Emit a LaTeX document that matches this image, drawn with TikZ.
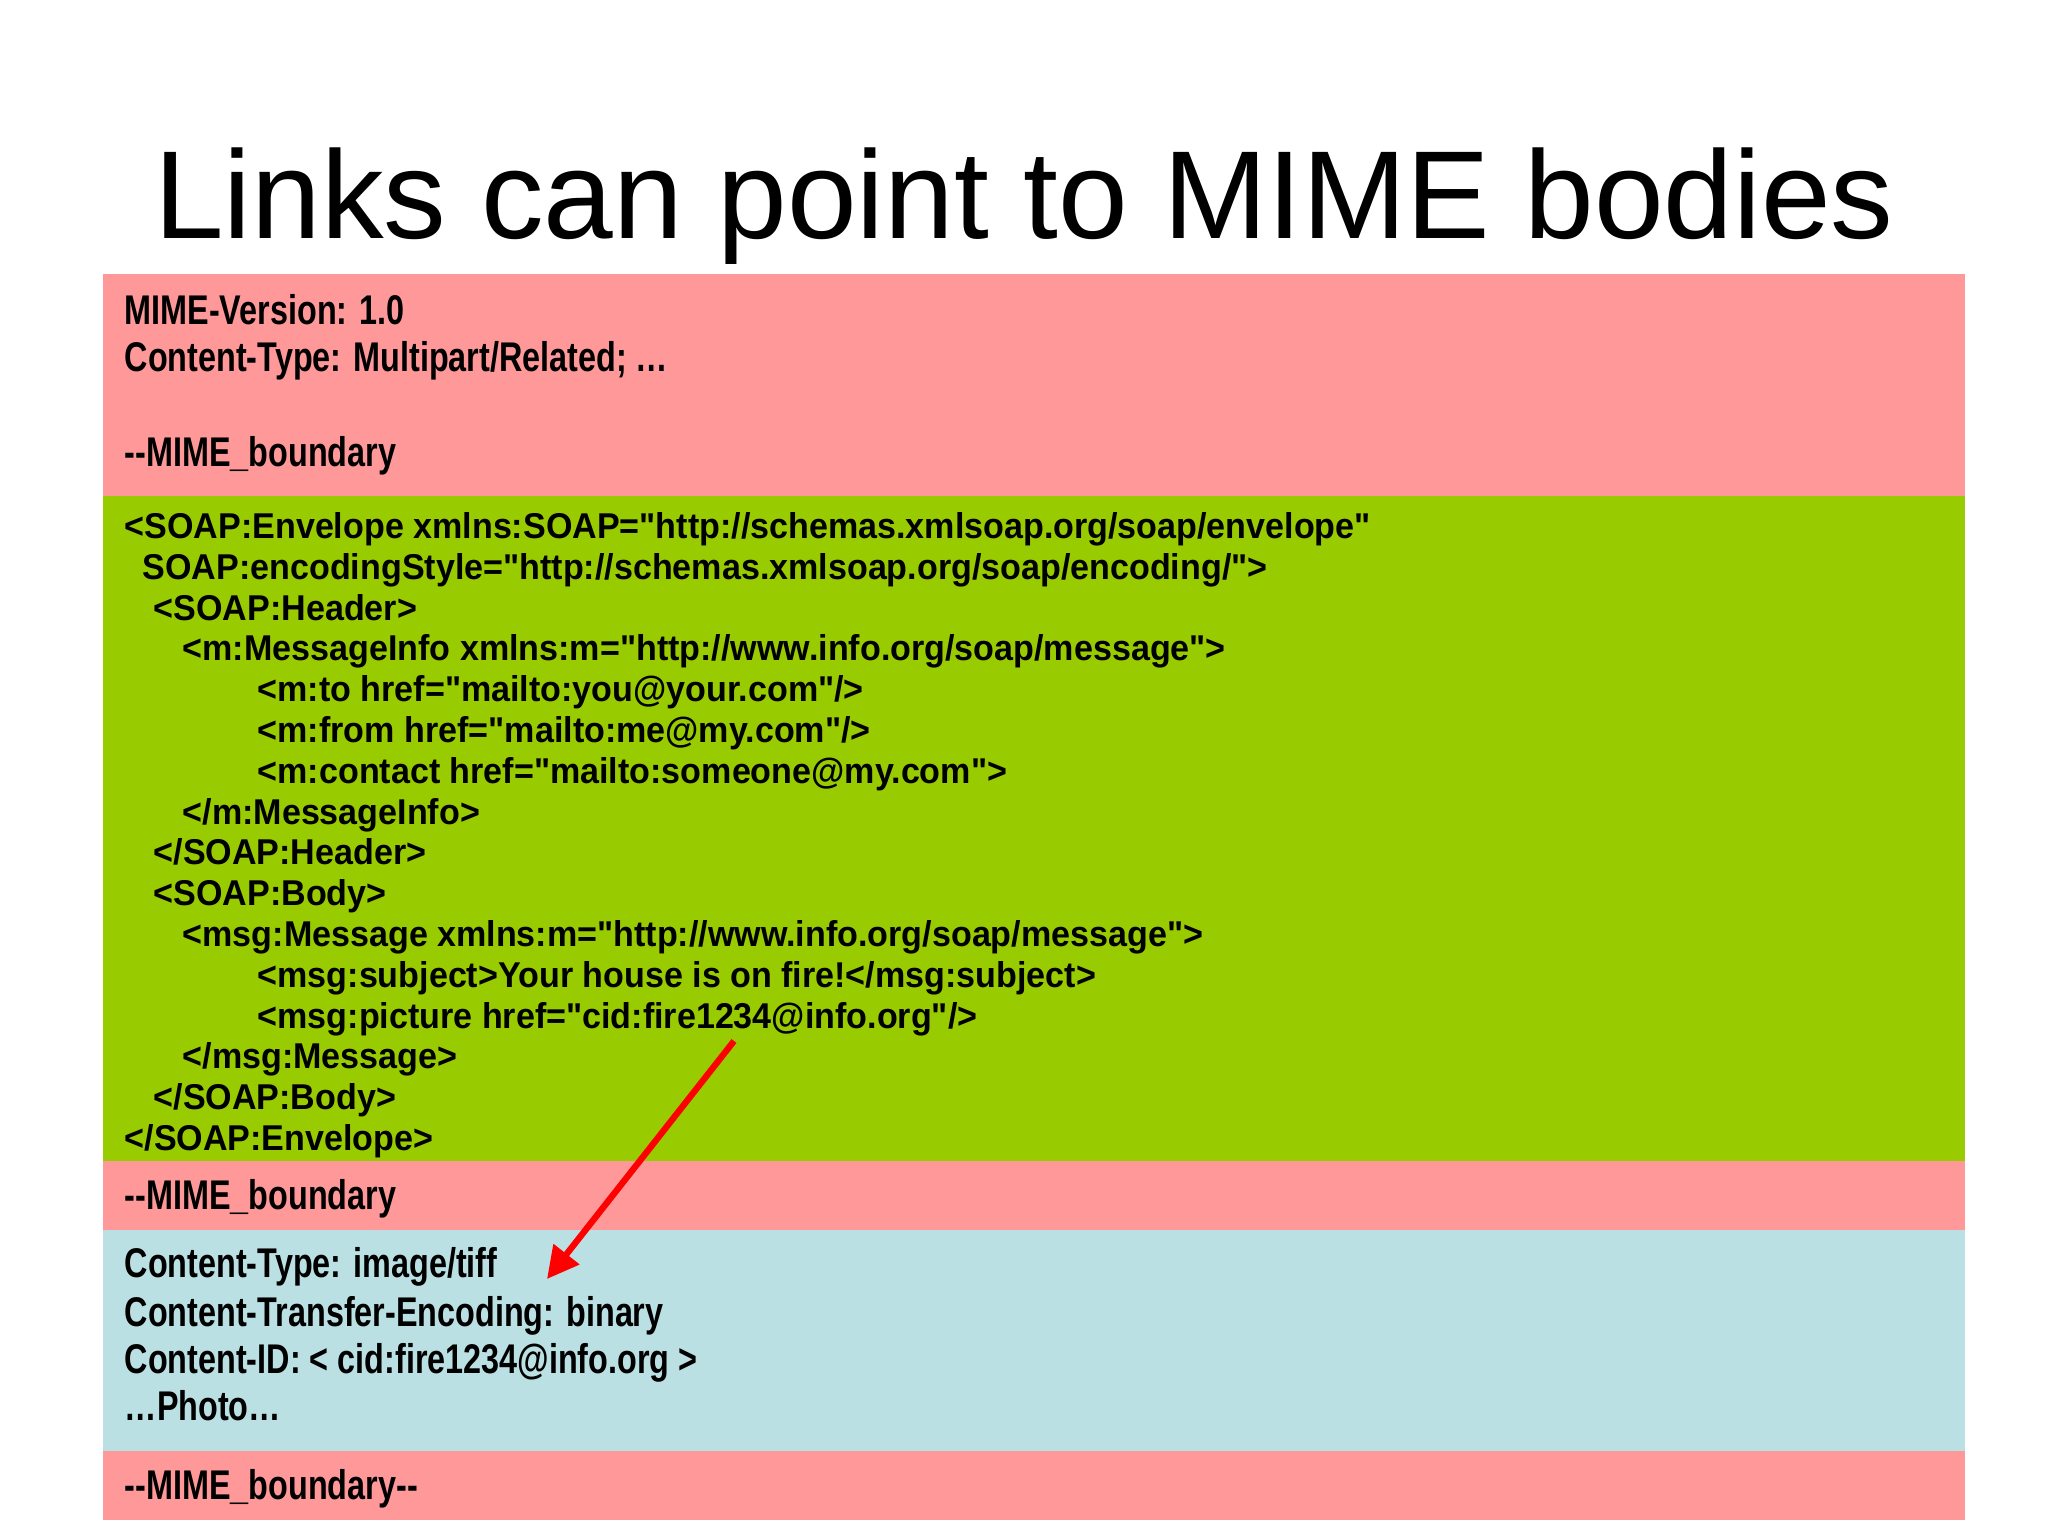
\documentclass[tikz,border=0pt]{standalone}
\usepackage{fontspec}
\usepackage[x11names, rgb]{xcolor}
\usepackage{tikz}
\usetikzlibrary{arrows.meta,shapes}

\newfontfamily\titlefont{Liberation Sans}
\newfontfamily\mimefont[FakeStretch=0.78]{Liberation Sans Bold}
\newfontfamily\soapfont[FakeStretch=0.95]{Liberation Sans Bold}

\definecolor{mimepink}{RGB}{255,153,153}
\definecolor{soapgreen}{RGB}{153,204,0}
\definecolor{partblue}{RGB}{187,224,227}

\begin{document}
\begin{tikzpicture}
[x=0.01cm,y=-0.01cm]
\tikzset{
	part/.style = {rectangle, inner sep = 0, minimum width = 18.61cm, anchor = north west},
	header/.style = {part, fill = mimepink},
	envelope/.style = {part, fill = soapgreen},
	attachment/.style = {part, fill = partblue},
	heading/.style = {anchor = base, inner sep = 0, font = \titlefont\fontsize{35.6}{40}\selectfont},
	mimeline/.style = {anchor = base west, inner sep = 0, font = \mimefont\fontsize{11.8}{13}\selectfont},
	soapline/.style = {anchor = base west, inner sep = 0, font = \soapfont\fontsize{10.2}{12}\selectfont},
	link/.style = {draw = red, line width = 1.8pt, -{Triangle[length=9pt,width=9pt]}}
}
\useasboundingbox (0,0) rectangle (2048,1536);

\node (title) [heading] at (1024,238) {Links can point to MIME bodies};

\node (head) [header, minimum height = 2.22cm] at (102,273) {};
\node (soap) [envelope, minimum height = 6.65cm] at (102,495) {};
\node (bound1) [header, minimum height = 0.69cm] at (102,1160) {};
\node (photo) [attachment, minimum height = 2.21cm] at (102,1229) {};
\node (bound2) [header, minimum height = 0.69cm] at (102,1450) {};

\node (version) [mimeline] at (124,324) {MIME-Version: 1.0};
\node (mtype) [mimeline] at (124,371) {Content-Type: Multipart/Related; …};
\node (sep0) [mimeline] at (124,466) {-{}-MIME\_boundary};

\node (env) [soapline] at (124,538) {<SOAP:Envelope xmlns:SOAP="http://schemas.xmlsoap.org/soap/envelope"};
\node (encstyle) [soapline] at (142,579) {SOAP:encodingStyle="http://schemas.xmlsoap.org/soap/encoding/">};
\node (hdr) [soapline] at (153,620) {<SOAP:Header>};
\node (info) [soapline] at (182,660) {<m:MessageInfo xmlns:m="http://www.info.org/soap/message">};
\node (to) [soapline] at (257,701) {<m:to href="mailto:you@your.com"/>};
\node (from) [soapline] at (257,742) {<m:from href="mailto:me@my.com"/>};
\node (contact) [soapline] at (257,783) {<m:contact href="mailto:someone@my.com">};
\node (infoend) [soapline] at (182,824) {</m:MessageInfo>};
\node (hdrend) [soapline] at (153,864) {</SOAP:Header>};
\node (body) [soapline] at (153,905) {<SOAP:Body>};
\node (msg) [soapline] at (182,946) {<msg:Message xmlns:m="http://www.info.org/soap/message">};
\node (subject) [soapline] at (257,987) {<msg:subject>Your house is on fire!</msg:subject>};
\node (picture) [soapline] at (257,1028) {<msg:picture href="cid:fire1234@info.org"/>};
\node (msgend) [soapline] at (182,1068) {</msg:Message>};
\node (bodyend) [soapline] at (153,1109) {</SOAP:Body>};
\node (envend) [soapline] at (124,1150) {</SOAP:Envelope>};

\node (sep1) [mimeline] at (124,1209) {-{}-MIME\_boundary};

\node (ctype) [mimeline] at (124,1277) {Content-Type: image/tiff};
\node (cenc) [mimeline] at (124,1326) {Content-Transfer-Encoding: binary};
\node (cid) [mimeline] at (124,1373) {Content-ID: < cid:fire1234@info.org >};
\node (data) [mimeline] at (124,1420) {…Photo…};

\node (sep2) [mimeline] at (124,1499) {-{}-MIME\_boundary-{}-};

\coordinate (hreftail) at (734,1041);
\coordinate (hrefhead) at (547,1279);
\draw [link] (hreftail) -- (hrefhead);
\end{tikzpicture}
\end{document}
